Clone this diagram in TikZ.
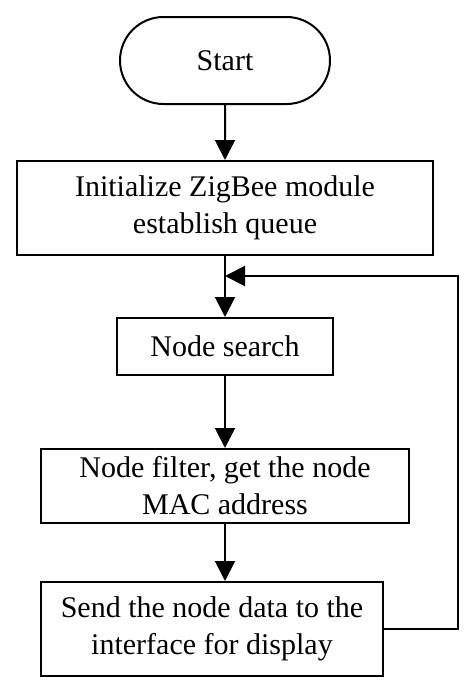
\documentclass[tikz,border=0pt]{standalone}
\usepackage{fontspec}
\setmainfont{Liberation Serif}
\usepackage{tikz}
\usetikzlibrary{arrows.meta,positioning,shapes.misc}

\begin{document}
\begin{tikzpicture}[
  box/.style={draw, line width=1pt, align=center, inner sep=2pt,
              font=\fontsize{15}{18.5}\selectfont},
  term/.style={box, rounded rectangle, minimum width=109pt, minimum height=43.5pt},
  arr/.style={-{Triangle[width=10pt,length=10pt]}, line width=1pt},
  node distance=28pt
]
\useasboundingbox (0,0) rectangle (237pt,-343pt);

% Start
\node[term] (start) at (112.5pt,-30.25pt) {Start};

% Steps
\node[box, below=27.5pt of start, minimum width=208pt, minimum height=47pt] (init)
  {Initialize ZigBee module\\establish queue};
\node[box, below=30.5pt of init, minimum width=108pt, minimum height=28.5pt] (search)
  {Node search};
\node[box, below=36pt of search, minimum width=184pt, minimum height=37pt] (filter)
  {Node filter, get the node\\MAC address};
\node[box, below=28.5pt of filter.south west, anchor=north west,
      minimum width=171pt, minimum height=47pt] (send)
  {Send the node data to the\\interface for display};

% Loop join point
\coordinate[below=10pt of init] (join);

% Arrows
\draw[arr] (start) -- (init);
\draw[arr] (init) -- (search);
\draw[arr] (search) -- (filter);
\draw[arr] (filter.south) -- (filter.south |- send.north);

% Feedback
\draw[arr] (send.east) -- ++(37pt,0) |- (join);

\end{tikzpicture}
\end{document}
